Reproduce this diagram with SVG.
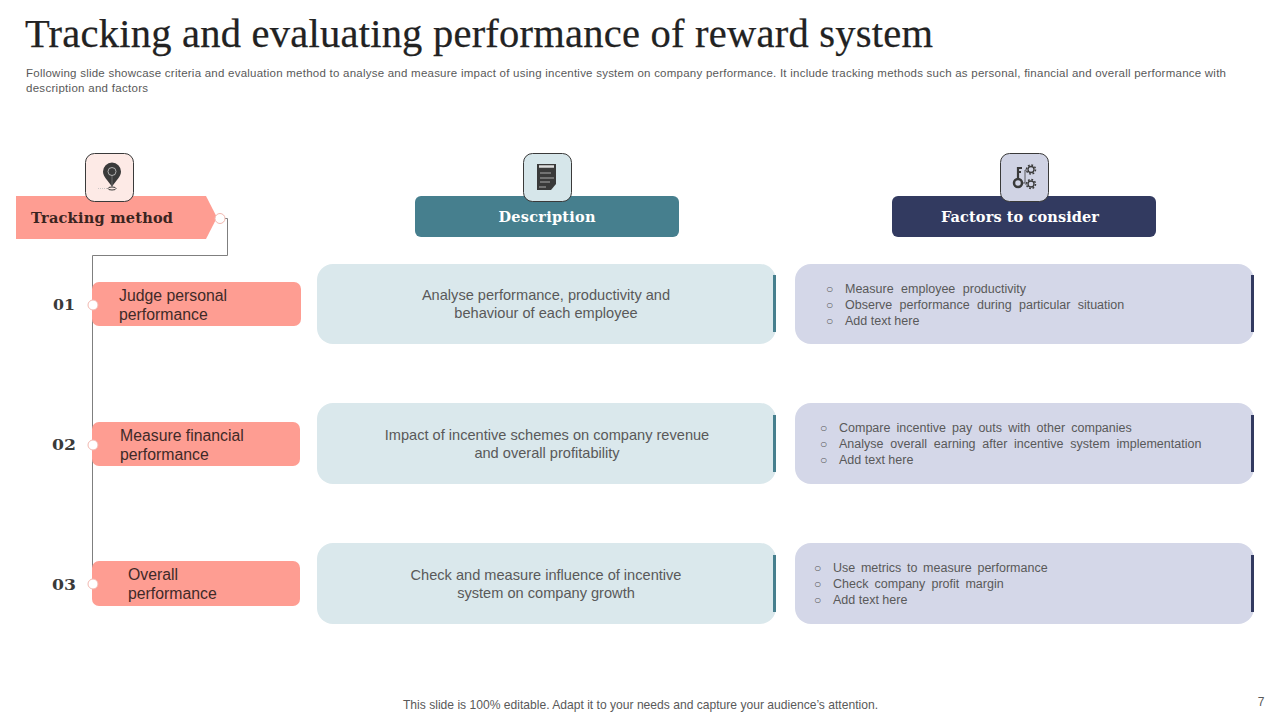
<svg xmlns="http://www.w3.org/2000/svg" width="1280" height="720" viewBox="0 0 1280 720">
<style>
text{font-family:"Liberation Sans",Arial,sans-serif}
.s{font-family:"Liberation Serif","Times New Roman",serif}
.h{font-family:"DejaVu Serif",serif;font-weight:700;font-size:14.500px}
.num{font-family:"DejaVu Serif",serif;font-weight:700;font-size:14px;fill:#3a3a3a;text-anchor:middle}
.lab{font-size:15.800px;fill:#3f2a28}
.d{font-size:14.600px;fill:#595959;text-anchor:middle}
.f{font-size:12.500px;fill:#595959;word-spacing:3px}
.b{font-size:12px;fill:#595959}
.pk{fill:#fe9d92}.lb{fill:#dae8ec}.lv{fill:#d4d7e8}
.dot{fill:#fff;stroke:#f2b8b0;stroke-width:1}
.g{fill:#3a3a3a}
.gear{fill:none;stroke:#3a3a3a}
</style>
<text class="s" x="25" y="47" font-size="40.500" fill="#222" stroke="#222" stroke-width=".25" textLength="908" lengthAdjust="spacing">Tracking and evaluating performance of reward system</text>
<text x="26" y="77" font-size="11.500" fill="#595959" textLength="1200">Following slide showcase criteria and evaluation method to analyse and measure impact of using incentive system on company performance. It include tracking methods such as personal, financial and overall performance with</text>
<text x="26" y="92" font-size="11.500" fill="#595959" textLength="122">description and factors</text>

<g id="connectors" fill="none" stroke="#7f7f7f" stroke-width="1">
<path d="M220 218.500H227.500V255.500H92.500V584"/>
</g>

<g id="head-tracking">
<path class="pk" d="M16 196H206L217 217.500L206 239H16Z"/>
<circle class="dot" cx="220" cy="218.500" r="5"/>
<text class="h" x="31" y="222.500" fill="#3a2420" textLength="142">Tracking method</text>
<rect x="85.500" y="153.500" width="48" height="48" rx="9" fill="#fdeae6" stroke="#3a3a3a"/>
<path class="g" d="M112 187C108 180 103 177 103 171.500A9 9 0 0 1 121 171.500C121 177 116 180 112 187Z"/>
<circle cx="112" cy="171.500" r="4" fill="none" stroke="#ccc" stroke-width=".8"/>
<path d="M112 175.500V187M98 188.500H108" stroke="#bbb" stroke-width=".8" stroke-dasharray="1 1" fill="none"/>
<ellipse cx="112" cy="188.500" rx="4" ry="1.500" fill="none" stroke="#3a3a3a"/>
</g>

<g id="head-description">
<rect x="415" y="196" width="264" height="41" rx="6" fill="#467f8e"/>
<text class="h" x="547" y="221.500" fill="#fff" text-anchor="middle" textLength="97">Description</text>
<rect x="523.500" y="153.500" width="48" height="48" rx="9" fill="#d6e6ea" stroke="#3a3a3a"/>
<path class="g" d="M537 164H556V184L551 190H537Z"/>
<path d="M539 166.500H554" stroke="#ddd" stroke-width="2.500" fill="none"/>
<path d="M540 173H551M540 178H554M540 182H550M539 187H546" stroke="#aaa" stroke-width="1" fill="none"/>
</g>

<g id="head-factors">
<rect x="892" y="196" width="264" height="41" rx="6" fill="#323a60"/>
<text class="h" x="1020" y="221.500" fill="#fff" text-anchor="middle" textLength="158">Factors to consider</text>
<rect x="1000.500" y="153.500" width="48" height="48" rx="9" fill="#d0d3e4" stroke="#3a3a3a"/>
<circle cx="1018" cy="183" r="4" fill="none" stroke="#3a3a3a" stroke-width="2.500"/>
<path d="M1018 179V167M1018 168H1022M1018 172H1021" stroke="#3a3a3a" stroke-width="2.200" fill="none"/>
<path d="M1022 183H1025V170H1027M1025 184H1027" stroke="#3a3a3a" stroke-width=".8" fill="none"/>
<circle class="gear" cx="1031" cy="169.500" r="3" stroke-width="1.300"/>
<circle class="gear" cx="1031" cy="169.500" r="4.500" stroke-width="1.500" stroke-dasharray="1.800 1.700"/>
<circle class="gear" cx="1031" cy="184" r="3" stroke-width="1.300"/>
<circle class="gear" cx="1031" cy="184" r="4.500" stroke-width="1.500" stroke-dasharray="1.800 1.700"/>
</g>

<g id="row1-method">
<text class="num" x="64" y="310" textLength="22" lengthAdjust="spacingAndGlyphs">01</text>
<rect class="pk" x="92" y="282" width="209" height="44" rx="7"/>
<circle class="dot" cx="93" cy="305" r="5"/>
<text class="lab" x="119" y="301">Judge personal</text>
<text class="lab" x="119" y="320">performance</text>
</g>
<g id="row1-desc">
<rect class="lb" x="317" y="264" width="459" height="80" rx="16"/>
<rect x="773" y="275" width="3" height="57" fill="#467f8e"/>
<text class="d" x="546" y="300">Analyse performance, productivity and</text>
<text class="d" x="546" y="318">behaviour of each employee</text>
</g>
<g id="row1-factors">
<rect class="lv" x="795" y="264" width="459" height="80" rx="16"/>
<rect x="1251" y="275" width="3" height="57" fill="#323a60"/>
<text class="b" x="826" y="293">○</text><text class="f" x="845" y="293" style="word-spacing:4px">Measure employee productivity</text>
<text class="b" x="826" y="309">○</text><text class="f" x="845" y="309" style="word-spacing:3.800px">Observe performance during particular situation</text>
<text class="b" x="826" y="325">○</text><text class="f" x="845" y="325" style="word-spacing:0">Add text here</text>
</g>

<g id="row2-method">
<text class="num" x="64" y="450" textLength="24" lengthAdjust="spacingAndGlyphs">02</text>
<rect class="pk" x="92" y="422" width="208" height="44" rx="7"/>
<circle class="dot" cx="93" cy="445" r="5"/>
<text class="lab" x="120" y="441">Measure financial</text>
<text class="lab" x="120" y="460">performance</text>
</g>
<g id="row2-desc">
<rect class="lb" x="317" y="403" width="459" height="81" rx="16"/>
<rect x="773" y="415" width="3" height="57" fill="#467f8e"/>
<text class="d" x="547" y="440">Impact of incentive schemes on company revenue</text>
<text class="d" x="547" y="458">and overall profitability</text>
</g>
<g id="row2-factors">
<rect class="lv" x="795" y="403" width="459" height="81" rx="16"/>
<rect x="1251" y="415" width="3" height="57" fill="#323a60"/>
<text class="b" x="820" y="432">○</text><text class="f" x="839" y="432" style="word-spacing:2.700px">Compare incentive pay outs with other companies</text>
<text class="b" x="820" y="448">○</text><text class="f" x="839" y="448" style="word-spacing:3.300px">Analyse overall earning after incentive system implementation</text>
<text class="b" x="820" y="464">○</text><text class="f" x="839" y="464" style="word-spacing:0">Add text here</text>
</g>

<g id="row3-method">
<text class="num" x="64" y="590" textLength="24" lengthAdjust="spacingAndGlyphs">03</text>
<rect class="pk" x="92" y="561" width="208" height="45" rx="7"/>
<circle class="dot" cx="93" cy="584" r="5"/>
<text class="lab" x="128" y="580">Overall</text>
<text class="lab" x="128" y="599">performance</text>
</g>
<g id="row3-desc">
<rect class="lb" x="317" y="543" width="459" height="81" rx="16"/>
<rect x="773" y="555" width="3" height="57" fill="#467f8e"/>
<text class="d" x="546" y="580">Check and measure influence of incentive</text>
<text class="d" x="546" y="598">system on company growth</text>
</g>
<g id="row3-factors">
<rect class="lv" x="795" y="543" width="459" height="81" rx="16"/>
<rect x="1251" y="555" width="3" height="57" fill="#323a60"/>
<text class="b" x="814" y="572">○</text><text class="f" x="833" y="572" style="word-spacing:2.250px">Use metrics to measure performance</text>
<text class="b" x="814" y="588">○</text><text class="f" x="833" y="588" style="word-spacing:2.700px">Check company profit margin</text>
<text class="b" x="814" y="604">○</text><text class="f" x="833" y="604" style="word-spacing:0">Add text here</text>
</g>

<text x="640.500" y="709" font-size="12.100" fill="#595959" text-anchor="middle">This slide is 100% editable. Adapt it to your needs and capture your audience’s attention.</text>
<text x="1261" y="706" font-size="12" fill="#595959" text-anchor="middle">7</text>
</svg>
